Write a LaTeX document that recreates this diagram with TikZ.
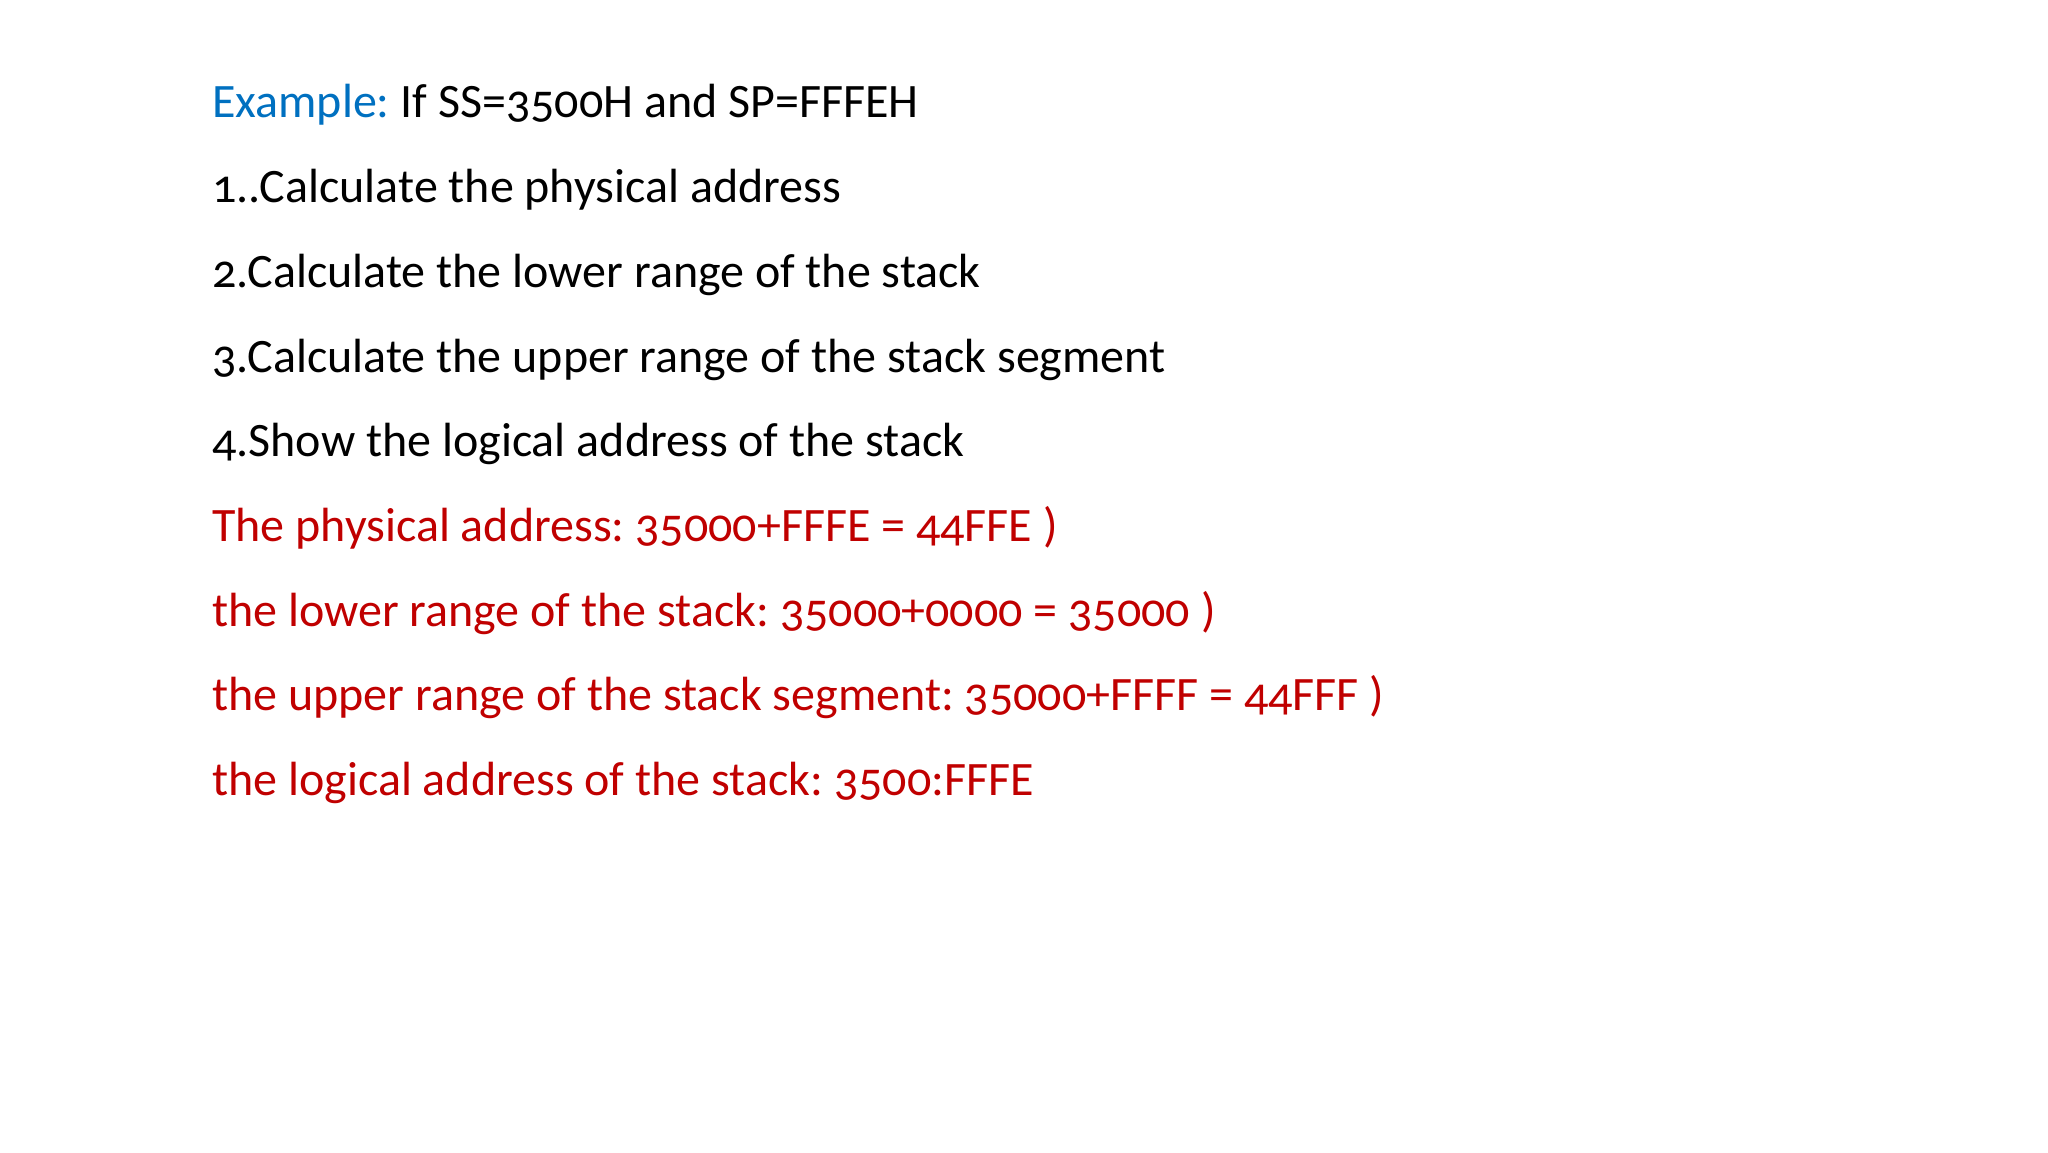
\documentclass[tikz,border=0pt]{standalone}
\usepackage{fontspec}
\setmainfont[Numbers=OldStyle]{Carlito}
\definecolor{exblue}{HTML}{0070C0}
\definecolor{ansred}{HTML}{C00000}
\frenchspacing
\begin{document}
\begin{tikzpicture}[x=1pt,y=1pt,
  line/.style={anchor=base west,inner sep=0pt,font=\fontsize{48}{56}\selectfont}]
\useasboundingbox (0,0) rectangle (2048,1152);
\node[line] (l1) at (212,1034) {\textcolor{exblue}{Example:} If SS=3500H and SP=FFFEH};
\node[line] (l2) at (212,949.3) {1..Calculate the physical address};
\node[line] (l3) at (212,864.6) {2.Calculate the lower range of the stack};
\node[line] (l4) at (212,779.9) {3.Calculate the upper range of the stack segment};
\node[line] (l5) at (212,695.2) {4.Show the logical address of the stack};
\node[line,text=ansred] (l6) at (212,610.5) {The physical address: 35000+FFFE = 44FFE )};
\node[line,text=ansred] (l7) at (212,525.8) {the lower range of the stack: 35000+0000 = 35000 )};
\node[line,text=ansred] (l8) at (212,441.1) {the upper range of the stack segment: 35000+FFFF = 44FFF )};
\node[line,text=ansred] (l9) at (212,356.4) {the logical address of the stack: 3500:FFFE};
\end{tikzpicture}
\end{document}
